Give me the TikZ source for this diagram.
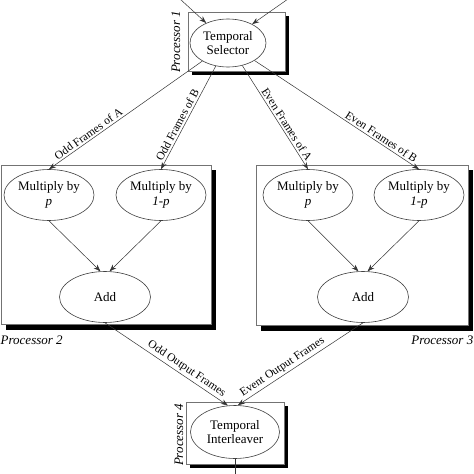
\documentclass[tikz,border=0pt]{standalone}
\usepackage{fontspec}
\setmainfont{Liberation Serif}
\usetikzlibrary{shapes.geometric,arrows.meta}
\begin{document}
\begin{tikzpicture}[x=1pt,y=-1pt,
  procbox/.style={draw=black!55, fill=white, line width=0.6pt},
  shadowfill/.style={fill=black},
  op/.style={ellipse, draw=black!75, line width=0.6pt, fill=white, inner sep=0pt,
    minimum width=90pt, minimum height=51pt, align=center,
    font=\fontsize{13}{14.5}\selectfont},
  flow/.style={draw=black!80, line width=0.5pt, -{Stealth[length=7pt,width=5pt]}},
  plain/.style={draw=black!80, line width=0.5pt},
  lab/.style={font=\fontsize{11.5}{12}\selectfont, sloped, above, inner sep=2pt},
  plab/.style={font=\fontsize{13}{14}\selectfont\itshape, inner sep=0pt}]
\useasboundingbox (0,0) rectangle (474,474);

% processor boxes with shadows
\fill[shadowfill] (192,16) rectangle (289,75);
\draw[procbox] (188,12) rectangle (285,71);
\fill[shadowfill] (6,170) rectangle (216,330);
\draw[procbox] (1,165) rectangle (211,324);
\fill[shadowfill] (261,170) rectangle (473,331);
\draw[procbox] (256,165) rectangle (468,325);
\fill[shadowfill] (190,406) rectangle (288,468);
\draw[procbox] (186,402) rectangle (284,464);

% processor labels
\node[plab, rotate=90] (p1) at (176,42) {Processor 1};
\node[plab, anchor=west] (p2) at (0.5,340) {Processor 2};
\node[plab, anchor=east] (p3) at (473.5,340) {Processor 3};
\node[plab, rotate=90] (p4) at (179,435) {Processor 4};

% operation nodes
\node[op, minimum width=76pt, minimum height=48pt] (ts) at (228,43) {Temporal\\Selector};
\node[op] (mp2a) at (49,195) {Multiply by\\\textit{p}};
\node[op] (mp2b) at (161,195) {Multiply by\\\textit{1-p}};
\node[op, minimum width=91pt] (add2) at (105,297) {Add};
\node[op] (mp3a) at (308,195) {Multiply by\\\textit{p}};
\node[op] (mp3b) at (419,195) {Multiply by\\\textit{1-p}};
\node[op, minimum width=91pt] (add3) at (363,297) {Add};
\node[op, minimum width=89pt, minimum height=53pt] (ti) at (235,432) {Temporal\\Interleaver};

% free ends
\coordinate (in1) at (180,-1);
\coordinate (in2) at (288,-1);
\coordinate (out) at (235,475);

% connectors
\draw[flow] (in1) -- (ts);
\draw[flow] (in2) -- (ts.38);
\draw[flow] (ts) -- node[lab, pos=0.72] {Odd Frames of A} (mp2a.north);
\draw[flow] (ts) -- node[lab, pos=0.6] {Odd Frames of B} (mp2b.north);
\draw[flow] (ts) -- node[lab, pos=0.6] {Even Frames of A} (mp3a.north);
\draw[flow] (ts) -- node[lab, pos=0.75] {Even Frames of B} (mp3b.north);
\draw[flow] (mp2a.south) -- (add2.100);
\draw[flow] (mp2b.south) -- (add2.80);
\draw[flow] (mp3a.south) -- (add3.100);
\draw[flow] (mp3b.south) -- (add3.80);
\draw[flow] (add2.south) -- node[lab, pos=0.63] {Odd Output Frames} (ti.105);
\draw[flow] (add3.south) -- node[lab, pos=0.61] {Event Output Frames} (ti.84);
\draw[plain] (ti.south) -- (out);
\end{tikzpicture}
\end{document}
